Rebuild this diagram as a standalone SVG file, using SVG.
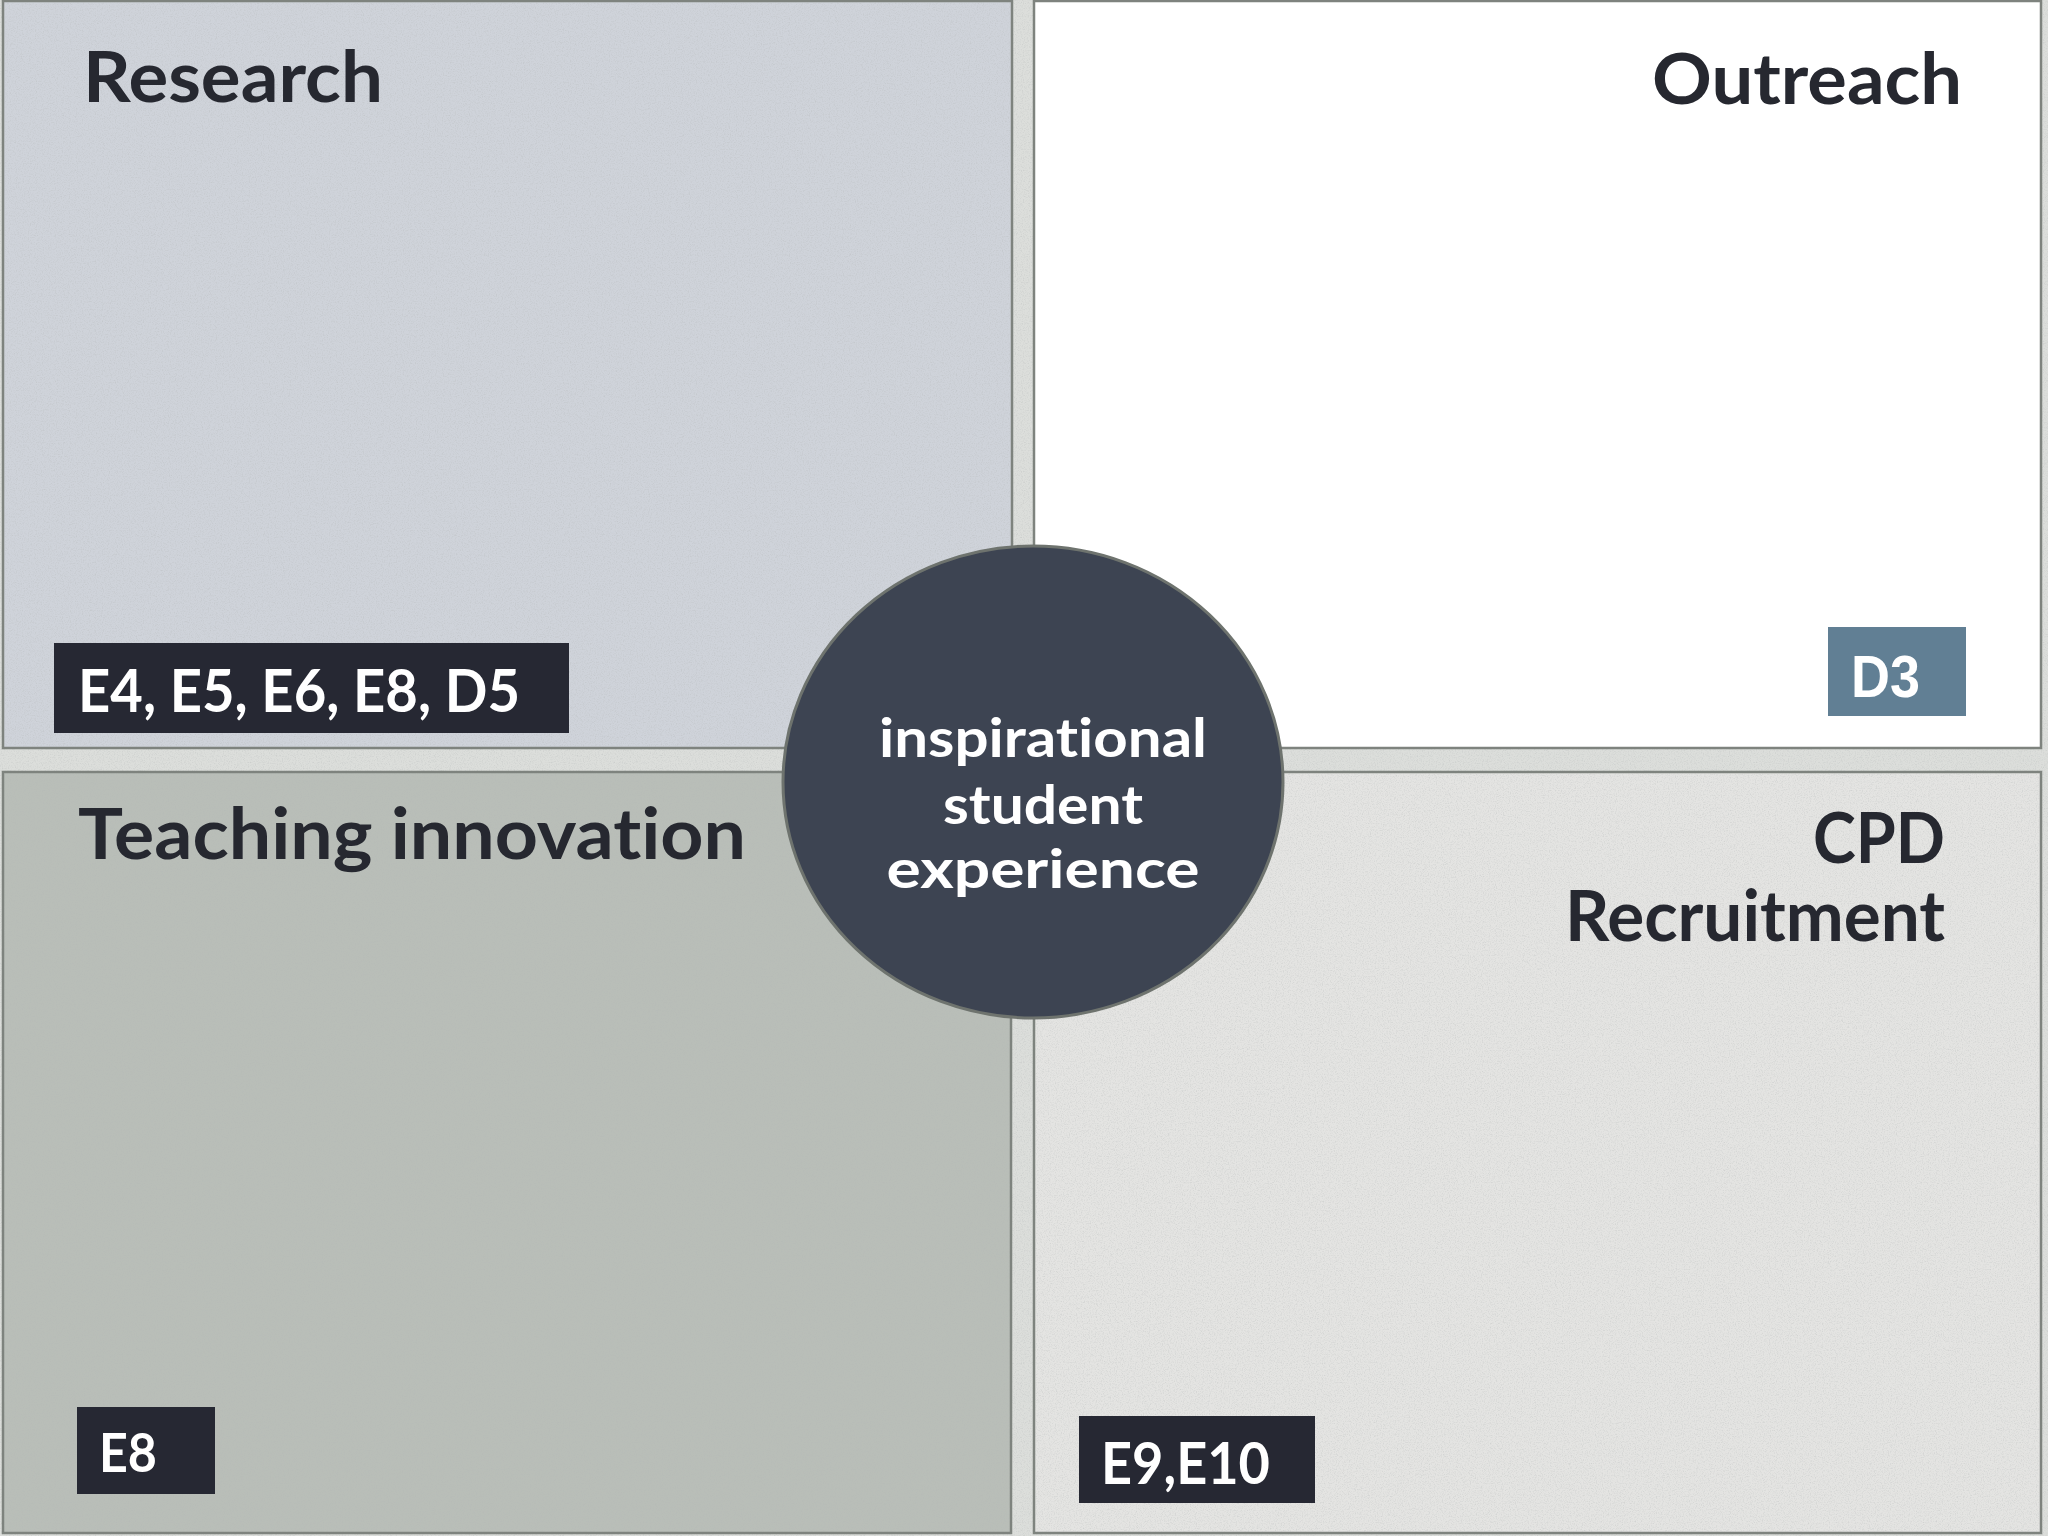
<svg xmlns="http://www.w3.org/2000/svg" width="2048" height="1536" viewBox="0 0 2048 1536">
  <defs>
    <filter id="grain" x="0" y="0" width="100%" height="100%" filterUnits="objectBoundingBox">
      <feTurbulence type="fractalNoise" baseFrequency="0.85" numOctaves="3" seed="4"/>
      <feColorMatrix type="matrix" values="0 0 0 0 0.45  0 0 0 0 0.47  0 0 0 0 0.47  1.6 0 0 0 -0.72"/>
    </filter>
    <style>
      text { font-variant-ligatures: none; font-feature-settings: "liga" 0; }
      .panel { stroke: #7e837e; stroke-width: 2.5; }
      .title { font-family: Lato, "DejaVu Sans", sans-serif; font-weight: bold; font-size: 70px; fill: #262830; }
      .tag { fill: #262833; }
      .tagtext { font-family: Lato, "DejaVu Sans", sans-serif; font-weight: bold; fill: #ffffff; }
      .ctext { font-family: Lato, "DejaVu Sans", sans-serif; font-weight: bold; font-size: 54px; fill: #ffffff; text-anchor: middle; }
      .grain { opacity: 0.5; }
    </style>
  </defs>

  <!-- background -->
  <rect x="0" y="0" width="2048" height="1536" fill="#dcdedb"/>
  <rect x="0" y="0" width="2048" height="1536" fill="#ffffff" filter="url(#grain)" class="grain"/>

  <g id="research">
    <rect class="panel" x="3" y="1" width="1009" height="747" fill="#cfd3da"/>
    <rect x="4" y="2" width="1007" height="745" fill="#fff" filter="url(#grain)" class="grain"/>
    <text class="title" x="83" y="102" textLength="300" lengthAdjust="spacingAndGlyphs">Research</text>
    <rect class="tag" x="54" y="643" width="515" height="90"/>
    <text class="tagtext" x="78" y="712" font-size="60" textLength="442" lengthAdjust="spacingAndGlyphs">E4, E5, E6, E8, D5</text>
  </g>

  <g id="outreach">
    <rect class="panel" x="1034" y="1" width="1007" height="747" fill="#ffffff"/>
    <text class="title" x="1962" y="104" text-anchor="end" textLength="310" lengthAdjust="spacingAndGlyphs">Outreach</text>
    <rect x="1828" y="627" width="138" height="89" fill="#617f94"/>
    <text x="1851" y="697" font-family="'Liberation Sans', Arial, sans-serif" font-weight="bold" font-size="60" fill="#ffffff" textLength="69" lengthAdjust="spacingAndGlyphs">D3</text>
  </g>

  <g id="teaching">
    <rect class="panel" x="3" y="772" width="1008" height="761" fill="#b9beb8"/>
    <rect x="4" y="773" width="1006" height="759" fill="#fff" filter="url(#grain)" class="grain"/>
    <text class="title" x="78" y="859" textLength="668" lengthAdjust="spacingAndGlyphs">Teaching innovation</text>
    <rect class="tag" x="77" y="1407" width="138" height="87"/>
    <text class="tagtext" x="99" y="1472" font-size="54" textLength="58" lengthAdjust="spacingAndGlyphs">E8</text>
  </g>

  <g id="cpd">
    <rect class="panel" x="1034" y="772" width="1007" height="761" fill="#e4e4e2"/>
    <rect x="1035" y="773" width="1005" height="759" fill="#fff" filter="url(#grain)" class="grain"/>
    <text class="title" x="1945" y="863" text-anchor="end" textLength="132" lengthAdjust="spacingAndGlyphs">CPD</text>
    <text class="title" x="1945" y="941" text-anchor="end" textLength="380" lengthAdjust="spacingAndGlyphs">Recruitment</text>
    <rect class="tag" x="1079" y="1416" width="236" height="87"/>
    <text class="tagtext" x="1101" y="1484" font-size="58" textLength="169" lengthAdjust="spacingAndGlyphs">E9,E10</text>
  </g>

  <g id="connectors"></g>

  <g id="center">
    <ellipse cx="1033" cy="782" rx="250" ry="236" fill="#3d4452" stroke="#6e736e" stroke-width="3"/>
    <text class="ctext" x="1043" y="757" textLength="328" lengthAdjust="spacingAndGlyphs">inspirational</text>
    <text class="ctext" x="1043" y="824" textLength="200" lengthAdjust="spacingAndGlyphs">student</text>
    <text class="ctext" x="1043" y="888" textLength="313" lengthAdjust="spacingAndGlyphs">experience</text>
  </g>
</svg>
